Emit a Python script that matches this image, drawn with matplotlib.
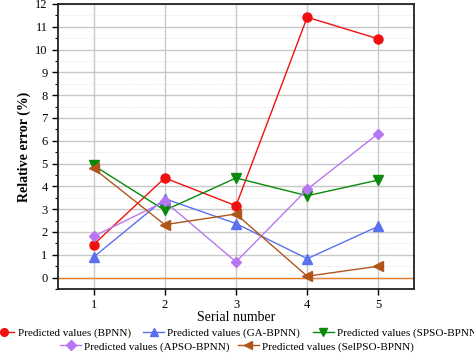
import numpy as np
import matplotlib.pyplot as plt
from matplotlib.ticker import MultipleLocator

plt.rcParams['font.family'] = ['Liberation Serif', 'DejaVu Serif']

serial = [1, 2, 3, 4, 5]
bpnn = [1.45, 4.37, 3.15, 11.42, 10.47]
ga_bpnn = [0.9, 3.46, 2.37, 0.83, 2.25]
spso_bpnn = [4.92, 2.95, 4.37, 3.59, 4.28]
apso_bpnn = [1.81, 3.34, 0.69, 3.87, 6.32]
selpso_bpnn = [4.79, 2.32, 2.79, 0.06, 0.5]

names = ['Predicted values (BPNN)', 'Predicted values (GA-BPNN)',
         'Predicted values (SPSO-BPNN)', 'Predicted values (APSO-BPNN)',
         'Predicted values (SelPSO-BPNN)']
series = [bpnn, ga_bpnn, spso_bpnn, apso_bpnn, selpso_bpnn]
colors = ['#f01010', '#5a70ee', '#0a8a0a', '#b877f2', '#b0561a']
markers = ['o', '^', 'v', 'D', '<']
msizes = [6.5, 6.5, 6.5, 5.5, 6.5]

fig = plt.figure(figsize=(4.74, 3.53), dpi=100)
ax = fig.add_axes([58/474, 1 - 289/353, (414-58)/474, (289-4)/353])

ax.axhline(0, color='#e8832e', lw=1.0, zorder=1)
lines = []
for y, name, c, m, ms in zip(series, names, colors, markers, msizes):
    ln, = ax.plot(serial, y, color=c, marker=m, ms=ms, lw=1.0, label=name, zorder=3)
    lines.append(ln)

ax.set_xlim(0.5, 5.5)
ax.set_ylim(-0.5, 12)
ax.set_xticks(serial)
ax.yaxis.set_major_locator(MultipleLocator(1))
ax.yaxis.set_minor_locator(MultipleLocator(0.5))
ax.grid(True, which='major', color='#c8c8c8', lw=1.0)
ax.grid(True, which='minor', axis='y', color='#dddddd', lw=0.6, ls=':')
ax.set_axisbelow(True)
ax.tick_params(axis='both', which='major', labelsize=9, length=4, width=1)
ax.tick_params(axis='y', which='minor', length=2.5, width=0.8)
for s in ax.spines.values():
    s.set_linewidth(1.3)
    s.set_color('#222222')
ax.set_xlabel('Serial number', fontsize=10, labelpad=0)
ax.set_ylabel('Relative error (%)', fontsize=10, fontweight='bold', labelpad=3)

leg_kw = dict(loc='center', frameon=False, fontsize=8, handlelength=1.9,
              handletextpad=0.3, borderaxespad=0, borderpad=0,
              markerscale=0.85)
fig.legend(lines[:3], names[:3], ncol=3, columnspacing=1.1,
           bbox_to_anchor=(0.5, 1 - 333/353), **leg_kw)
fig.legend(lines[3:], names[3:], ncol=2, columnspacing=0.7,
           bbox_to_anchor=(0.5, 1 - 346.5/353), **leg_kw)

fig.savefig('out.png', dpi=100)
